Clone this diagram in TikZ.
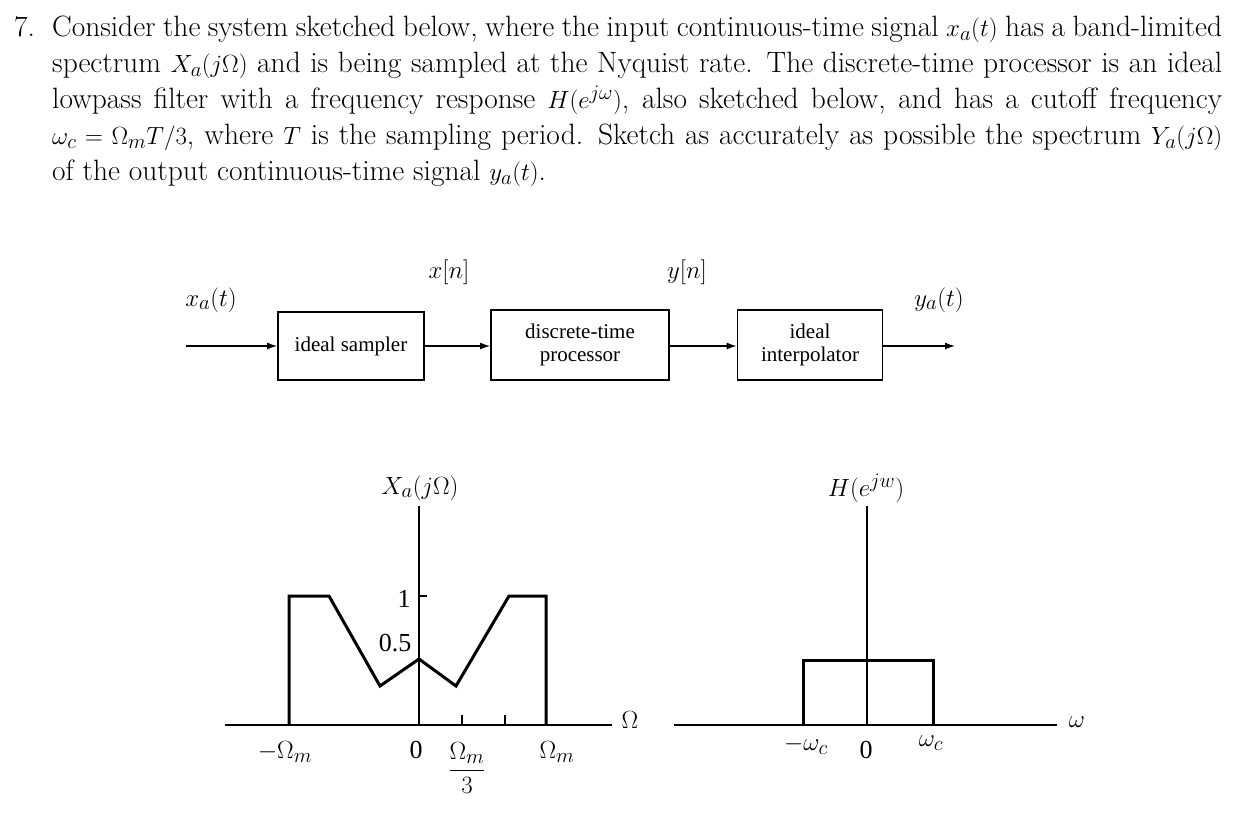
\documentclass[tikz,border=0pt]{standalone}
\usepackage{amsmath}
\usepackage{fontspec}
\newfontfamily\tms{Liberation Serif}
\usetikzlibrary{arrows.meta}
\begin{document}
\begin{tikzpicture}[x=1pt,y=-1pt,
  blk/.style={draw,line width=1.8pt,minimum height=68pt,align=center,font=\tms\fontsize{21}{23}\selectfont,inner sep=2pt},
  sig/.style={line width=1.3pt,-{Latex[length=10pt,width=7pt]}},
  ax/.style={line width=1.3pt},
  cur/.style={line width=3pt,line join=miter},
  lab/.style={font=\fontsize{29}{31}\selectfont},
  num/.style={font=\tms\fontsize{26}{28}\selectfont}]
\useasboundingbox (0,0) rectangle (1248,818);
\node[anchor=north west,inner sep=0pt] (txt) at (14,16) {\fontsize{29.4}{36}\selectfont
\begin{minipage}[t]{1208pt}\hangindent=38pt\hangafter=1\noindent\makebox[38pt][l]{7.}Consider the system sketched below, where the input continuous-time signal $x_a(t)$ has a band-limited spectrum $X_a(j\Omega)$ and is being sampled at the Nyquist rate. The discrete-time processor is an ideal lowpass filter with a frequency response $H(e^{j\omega})$, also sketched below, and has a cutoff frequency $\omega_c=\Omega_mT/3$, where $T$ is the sampling period. Sketch as accurately as possible the spectrum $Y_a(j\Omega)$\linebreak of the output continuous-time signal $y_a(t)$.
\end{minipage}};
% block diagram
\node[blk,minimum width=146pt] (s) at (351,346) {ideal sampler};
\node[blk,minimum width=178pt,minimum height=70pt] (p) at (580,345) {discrete-time\\processor};
\node[blk,minimum width=145pt,minimum height=70pt] (i) at (810,345) {ideal\\interpolator};
\coordinate (in) at (186,346);
\coordinate (out) at (955,346);
\draw[sig] (in) -- (s.west);
\draw[sig] (s.east) -- (p.west |- s.east);
\draw[sig] (p.east |- s.east) -- (i.west |- s.east);
\draw[sig] (i.east |- s.east) -- (out);
\node[lab] (xa) at (211,300) {$x_a(t)$};
\node[lab] (xn) at (449,272) {$x[n]$};
\node[lab] (yn) at (687,272) {$y[n]$};
\node[lab] (ya) at (939,300) {$y_a(t)$};
% left plot
\draw[ax] (225,725) -- (612,725);
\draw[ax] (419,506) -- (419,725);
\draw[ax] (419,596) -- (427,596);
\draw[ax] (462,715) -- (462,725);
\draw[ax] (505,715) -- (505,725);
\draw[cur] (289,725) -- (289,596) -- (329,596) -- (380,686) -- (419,659) -- (456,686) -- (509,596) -- (546,596) -- (546,725);
\node[lab] (xt) at (420,488) {$X_a(j\Omega)$};
\node[num] (one) at (404,599) {1};
\node[num] (half) at (395,643) {0.5};
\node[lab] (mOm) at (285,752) {$-\Omega_m$};
\node[num] (z1) at (416,750) {0};
\node[lab] (Om3) at (467,768) {$\dfrac{\Omega_m}{3}$};
\node[lab] (Om) at (557,752) {$\Omega_m$};
\node[lab] (Omax) at (630,720) {$\Omega$};
% right plot
\draw[ax] (674,725) -- (1057,725);
\draw[ax] (867,506) -- (867,725);
\draw[cur] (803,725) -- (803,660) -- (933,660) -- (933,725);
\node[lab] (ht) at (866,488) {$H(e^{jw})$};
\node[lab] (mwc) at (806,745) {$-\omega_c$};
\node[num] (z2) at (866,750) {0};
\node[lab] (wc) at (931,743) {$\omega_c$};
\node[lab] (w) at (1077,722) {$\omega$};
\end{tikzpicture}
\end{document}
